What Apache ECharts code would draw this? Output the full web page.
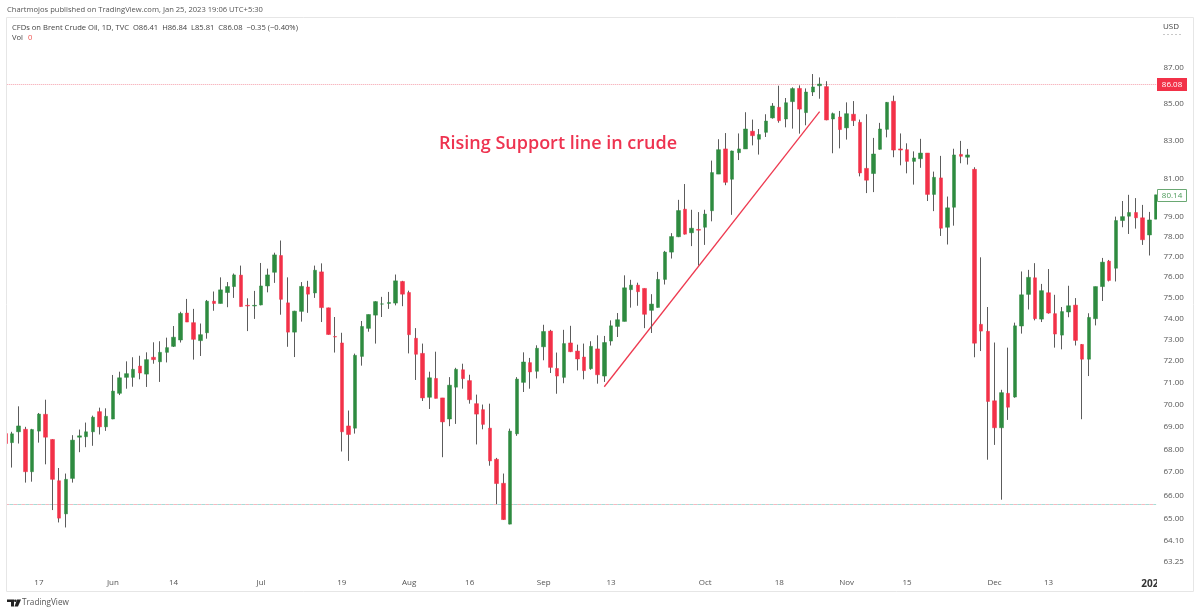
<!DOCTYPE html>
<html>
<head>
<meta charset="utf-8">
<title>CFDs on Brent Crude Oil</title>
<style>
	html, body { margin: 0; padding: 0; background: #fff; }
	#chart { width: 1200px; height: 614px; }
</style>
</head>
<body>
<div id="chart"></div>
<script src="https://cdn.jsdelivr.net/npm/echarts@6/dist/echarts.min.js"></script>
<script>
	// 日线数据，从图上读取（第一根只露出一半）
	var opens = [
		68.69,68.29,68.77,68.88,67.02,68.80,69.55,68.43,66.63,65.22,
		66.73,68.53,68.55,68.77,69.67,68.99,69.34,70.50,71.23,71.23,
		71.75,71.38,72.16,71.95,72.39,72.67,72.97,74.25,73.79,72.94,
		73.31,74.82,74.71,75.24,75.53,76.09,74.62,74.59,74.64,75.56,
		76.23,77.06,74.74,73.34,74.33,75.51,75.22,76.25,74.50,73.13,
		72.83,69.03,68.93,72.20,73.52,74.15,74.68,74.71,74.73,75.78,
		75.24,73.05,72.34,70.32,71.18,70.29,69.34,70.78,71.58,71.08,
		70.03,69.76,68.93,67.56,66.52,64.79,68.68,71.00,71.91,71.51,
		72.65,73.39,71.64,71.23,72.83,72.45,72.17,71.63,72.55,71.29,
		72.92,73.61,73.85,75.38,75.60,75.44,74.38,74.52,75.88,77.23,
		78.00,79.40,78.20,78.37,78.48,79.32,81.22,82.55,80.95,82.35,
		82.55,83.50,83.07,83.44,84.22,84.80,84.16,85.11,85.84,84.51,
		85.64,85.99,85.94,84.16,84.27,83.68,84.42,83.98,81.52,81.25,
		82.53,83.60,85.13,82.55,82.51,81.89,82.03,82.33,80.16,81.02,
		78.48,79.50,82.26,82.11,81.47,73.71,73.38,70.16,68.95,70.50,
		70.33,73.63,75.15,75.96,73.96,75.23,74.22,73.20,74.30,74.63,
		72.76,72.07,73.98,75.53,76.78,76.43,78.82,79.04,79.23,78.96,
		78.09,78.89
	];
	var highs = [
		68.72,68.77,69.91,68.99,68.90,69.61,70.21,68.44,67.18,66.94,
		68.62,68.87,69.18,69.49,69.85,69.82,71.34,71.49,71.97,72.16,
		72.23,72.39,72.86,72.91,73.08,73.63,74.31,74.93,74.45,73.75,
		74.88,75.29,75.98,75.75,76.17,76.56,74.96,75.32,76.69,76.41,
		77.20,77.81,75.98,74.36,75.75,75.81,76.56,76.67,74.51,74.06,
		73.31,69.72,72.33,73.87,74.18,74.82,75.03,75.27,76.12,75.81,
		75.33,73.53,72.80,71.49,72.42,70.29,71.24,71.67,71.86,71.35,
		70.44,69.99,70.03,67.62,66.94,68.91,71.24,72.39,72.13,72.72,
		73.69,73.45,72.38,73.45,73.64,72.75,72.80,72.91,73.19,73.16,
		73.90,74.25,76.08,75.86,75.72,75.44,75.16,76.25,77.29,78.18,
		79.88,80.70,79.37,79.25,79.37,81.93,83.07,83.40,82.46,83.38,
		84.53,84.13,83.62,84.42,85.03,85.99,85.31,85.90,86.01,85.84,
		86.64,86.45,86.24,84.51,84.60,85.07,85.14,84.13,84.42,83.14,
		83.95,85.09,85.44,83.38,82.85,82.42,83.09,82.33,81.35,82.18,
		80.05,82.56,82.98,82.55,81.58,76.97,74.54,72.85,70.66,72.61,
		73.79,76.27,76.35,76.68,75.66,76.39,75.13,74.54,75.57,74.97,
		72.78,74.24,75.53,76.94,76.84,79.02,79.82,80.14,79.97,79.62,
		79.26,80.14
	];
	var lows = [
		68.25,67.20,68.25,66.55,66.59,68.29,67.34,65.38,64.86,64.65,
		66.55,67.87,68.09,68.15,68.65,68.81,69.33,70.42,70.71,70.80,
		71.14,70.79,71.86,71.02,71.92,72.64,72.85,73.82,72.05,72.22,
		73.03,74.36,74.71,74.53,74.98,74.56,73.39,73.97,74.62,75.25,
		75.71,74.17,72.65,72.17,73.84,74.26,74.98,73.82,73.22,72.38,
		67.90,67.49,68.69,71.77,73.36,72.80,74.06,74.45,74.62,74.58,
		72.34,71.11,70.15,69.79,70.27,67.65,69.02,69.12,70.71,70.03,
		68.21,68.88,67.28,65.63,64.97,64.78,68.59,70.56,70.71,71.18,
		72.02,71.43,70.48,70.96,72.40,71.55,71.14,71.58,70.94,71.02,
		72.71,73.11,73.85,74.51,74.60,73.53,73.30,74.51,75.63,76.91,
		77.98,78.11,77.53,76.57,77.59,78.78,81.22,80.64,79.11,81.96,
		82.55,82.74,82.25,83.19,84.18,83.96,83.71,83.64,83.37,83.82,
		85.42,85.27,84.09,82.32,82.58,83.05,83.78,81.10,80.23,80.28,
		82.51,83.17,82.11,81.68,81.26,80.67,81.55,79.82,79.30,78.04,
		77.61,78.56,81.79,81.72,72.16,72.45,67.54,68.19,65.82,69.30,
		70.30,73.27,74.42,73.90,73.82,74.22,72.61,72.53,74.05,72.71,
		69.33,71.29,73.66,74.83,75.78,75.78,78.48,78.14,78.41,77.59,
		77.06,78.89
	];
	var closes = [
		68.25,68.68,69.03,67.02,68.87,69.56,68.53,66.69,65.04,66.69,
		68.40,68.59,68.77,69.42,68.99,69.46,70.60,71.21,71.40,71.60,
		71.43,72.05,72.05,72.39,72.61,73.10,74.23,73.82,73.00,73.22,
		74.82,74.71,75.37,75.53,76.10,74.56,74.59,74.62,75.56,76.10,
		77.09,74.91,73.34,74.34,75.54,75.16,76.33,74.51,73.23,73.11,
		68.77,68.65,72.25,73.61,74.18,74.80,74.69,74.76,75.81,75.16,
		73.22,72.30,70.29,71.21,70.27,69.21,70.87,71.60,71.17,70.21,
		69.56,69.10,67.49,66.51,64.98,68.80,71.15,71.94,71.48,72.58,
		73.37,71.69,71.29,72.80,72.42,72.08,71.54,72.67,71.35,72.85,
		73.64,73.93,75.47,75.60,75.28,74.19,74.68,75.88,77.23,78.01,
		79.33,78.13,78.43,78.33,79.15,81.30,82.51,80.79,82.44,82.55,
		83.62,83.26,83.32,84.05,84.87,84.07,85.05,85.83,84.70,85.64,
		85.92,86.08,84.11,84.45,83.59,84.45,84.07,81.28,80.90,82.28,
		83.62,85.07,82.49,82.49,81.89,82.07,82.33,80.16,81.05,78.43,
		79.47,82.23,82.16,82.23,72.82,73.39,70.13,68.95,70.53,69.87,
		73.64,75.13,75.98,73.98,75.33,74.25,73.25,74.32,74.60,72.95,
		72.07,74.04,75.53,76.73,75.83,78.82,79.02,79.23,78.96,77.85,
		78.85,80.14
	];

	// 坐标轴刻度
	var priceTicks = [87,85,83,81,79,78,77,76,75,74,73,72,71,70,69,68,67,66,65,64.1,63.25];
	var dateIndex = [5,16,25,38,50,60,69,80,90,104,115,125,134,147,155,171];
	var dateText = ['17','Jun','14','Jul','19','Aug','16','Sep','13','Oct','18','Nov','15','Dec','13','2022'];

	var lastPrice = 80.14;
	var pricePublished = 86.08;
	var priceLow = 65.64;
	var trendStart = [89, 70.8];
	var trendEnd = [121, 84.56];

	var up = '#2e8b40', down = '#f23148', wick = '#5c5c5c', textColor = '#555';
	var fontName = '"Open Sans", sans-serif';
	var lastIdx = opens.length - 1;

	var categories = opens.map(function (v, i) {
		var k = dateIndex.indexOf(i);
		return k >= 0 ? dateText[k] : '';
	});
	// [open, close, low, high]
	var wickData = opens.map(function (o, i) { return [o, closes[i], lows[i], highs[i]]; });
	var bodyData = opens.map(function (o, i) {
		return [o, closes[i], Math.min(o, closes[i]), Math.max(o, closes[i])];
	});

	function headerText(x, y, text, color, size) {
		return {
			type: 'text', x: x, y: y, z: 20,
			style: { text: text, fill: color || textColor, font: (size || 7.6) + 'px ' + fontName, textVerticalAlign: 'middle' }
		};
	}
	function priceLine(price, style) {
		return [{ coord: [0, price], lineStyle: style }, { coord: [lastIdx, price] }];
	}

	var myChart = echarts.init(document.getElementById('chart'));

	option = {
		backgroundColor: '#fff',
		animation: false,
		grid: { left: 1.9, top: 17.7, width: 1157.6, height: 553 },
		xAxis: {
			type: 'category',
			data: categories,
			z: 1,
			axisLine: { show: false },
			axisTick: { show: false },
			splitLine: { show: false },
			axisLabel: {
				interval: 0,
				margin: 8,
				fontSize: 8,
				fontFamily: fontName,
				color: textColor,
				hideOverlap: false,
				formatter: function (v) {
					return v === '2022' ? '{b|' + v + '}' : v;
				},
				rich: { b: { fontSize: 10, fontWeight: 'bold', color: '#333', fontFamily: fontName, padding: [0, 7, 0, 0] } }
			}
		},
		yAxis: {
			type: 'log',
			position: 'right',
			min: 62.87,
			max: 89.85,
			z: 10,
			axisLine: { show: false },
			axisTick: { show: false },
			splitLine: { show: false },
			axisLabel: {
				customValues: priceTicks,
				margin: 4,
				fontSize: 8,
				fontFamily: fontName,
				color: textColor,
				formatter: function (v) { return Number(v).toFixed(2); }
			}
		},
		series: [
			{
				name: 'wick',
				type: 'candlestick',
				data: wickData,
				barWidth: 1,
				z: 2,
				itemStyle: { color: wick, color0: wick, borderColor: wick, borderColor0: wick, borderWidth: 1 },
				markLine: {
					silent: true,
					symbol: 'none',
					z: 1,
					label: { show: false },
					data: [
						priceLine(pricePublished, { color: '#f5a0ac', type: 'dotted', width: 1 }),
						priceLine(priceLow, { color: '#f7b8c0', type: [4, 4], width: 1 }),
						priceLine(priceLow, { color: '#a8dcd6', type: [4, 4], dashOffset: 4, width: 1 }),
						[
							{ coord: trendStart, lineStyle: { color: '#ee3a50', type: 'solid', width: 1.3 } },
							{ coord: trendEnd }
						]
					]
				}
			},
			{
				name: 'body',
				type: 'candlestick',
				data: bodyData,
				barWidth: 4,
				z: 3,
				itemStyle: { color: up, color0: down, borderColor: up, borderColor0: down, borderWidth: 0.5 }
			}
		],
		graphic: [
			{ type: 'rect', z: 5, shape: { x: 0, y: 0, width: 6, height: 614 }, style: { fill: '#fff' } },
			{ type: 'rect', z: 5, shape: { x: 1157, y: 0, width: 43, height: 614 }, style: { fill: '#fff' } },
			{ type: 'rect', z: 6, shape: { x: 6.5, y: 17.5, width: 1187, height: 574 }, style: { fill: 'none', stroke: '#e6e6e6', lineWidth: 1 } },
			headerText(7, 10, 'Chartmojos published on TradingView.com, Jan 25, 2023 19:06 UTC+5:30', '#555'),
			headerText(12, 28, 'CFDs on Brent Crude Oil, 1D, TVC  O86.41  H86.84  L85.81  C86.08  −0.35 (−0.40%)', '#444'),
			headerText(12, 38, 'Vol', '#444'),
			headerText(28, 38, '0', '#ef5350'),
			headerText(1163, 26.5, 'USD', '#444', 8),
			{ type: 'line', z: 20, shape: { x1: 1163, y1: 34.5, x2: 1183, y2: 34.5 }, style: { stroke: '#c8c8c8', lineWidth: 1, lineDash: [2, 2] } },
			{
				type: 'text', x: 439, y: 144, z: 20,
				style: { text: 'Rising Support line in crude', fill: '#ee3350', font: '600 18px ' + fontName, textVerticalAlign: 'middle' }
			},
			{
				type: 'rect', z: 15, shape: { x: 1157, y: 78, width: 30, height: 13 }, style: { fill: '#f23148' }
			},
			{
				type: 'text', x: 1172, y: 84.5, z: 20,
				style: { text: '86.08', fill: '#fff', font: '8px ' + fontName, textAlign: 'center', textVerticalAlign: 'middle' }
			},
			{
				type: 'rect', z: 15, shape: { x: 1157.5, y: 189.5, width: 29, height: 12 }, style: { fill: '#fff', stroke: '#6aa873', lineWidth: 1 }
			},
			{
				type: 'text', x: 1172, y: 195.5, z: 20,
				style: { text: String(lastPrice), fill: '#4c9a5a', font: '8px ' + fontName, textAlign: 'center', textVerticalAlign: 'middle' }
			},
			// TradingView 标志
			{ type: 'polygon', z: 20, shape: { points: [[7, 599.5], [14, 599.5], [14, 606.5], [11, 606.5], [11, 602], [7, 602]] }, style: { fill: '#222' } },
			{ type: 'circle', z: 20, shape: { cx: 15.3, cy: 600.8, r: 1.3 }, style: { fill: '#222' } },
			{ type: 'polygon', z: 20, shape: { points: [[17, 599.5], [21, 599.5], [18, 606.5], [14.5, 606.5]] }, style: { fill: '#222' } },
			headerText(22, 603, 'TradingView', '#555', 8.2)
		]
	};

	myChart.setOption(option);
</script>
</body>
</html>
